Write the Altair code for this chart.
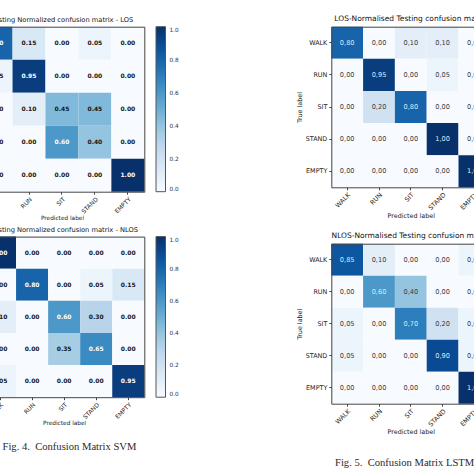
import altair as alt
import pandas as pd

W = H = 474

classes = ["WALK", "RUN", "SIT", "STAND", "EMPTY"]

svm_los = [
    [0.80, 0.15, 0.00, 0.05, 0.00],
    [0.05, 0.95, 0.00, 0.00, 0.00],
    [0.00, 0.10, 0.45, 0.45, 0.00],
    [0.00, 0.00, 0.60, 0.40, 0.00],
    [0.00, 0.00, 0.00, 0.00, 1.00],
]
svm_nlos = [
    [1.00, 0.00, 0.00, 0.00, 0.00],
    [0.00, 0.80, 0.00, 0.05, 0.15],
    [0.10, 0.00, 0.60, 0.30, 0.00],
    [0.00, 0.00, 0.35, 0.65, 0.00],
    [0.05, 0.00, 0.00, 0.00, 0.95],
]
lstm_los = [
    [0.80, 0.00, 0.10, 0.10, 0.00],
    [0.00, 0.95, 0.00, 0.05, 0.00],
    [0.00, 0.20, 0.80, 0.00, 0.00],
    [0.00, 0.00, 0.00, 1.00, 0.00],
    [0.00, 0.00, 0.00, 0.00, 1.00],
]
lstm_nlos = [
    [0.85, 0.10, 0.00, 0.00, 0.05],
    [0.00, 0.60, 0.40, 0.00, 0.00],
    [0.05, 0.00, 0.70, 0.20, 0.05],
    [0.05, 0.00, 0.00, 0.90, 0.05],
    [0.00, 0.00, 0.00, 0.00, 1.00],
]

titles = [
    "Testing Normalized confusion matrix - LOS",
    "Testing Normalized confusion matrix - NLOS",
    "LOS-Normalised Testing confusion matrix",
    "NLOS-Normalised Testing confusion matrix",
]
captions = ["Fig. 4.\u00a0 Confusion Matrix SVM", "Fig. 5.\u00a0 Confusion Matrix LSTM"]
colorbar_ticks = [0.0, 0.2, 0.4, 0.6, 0.8, 1.0]

blues = ["#f7fbff", "#deebf7", "#c6dbef", "#9ecae1", "#6baed6",
         "#4292c6", "#2171b5", "#08519c", "#08306b"]
blues_domain = [i / 8 for i in range(9)]

FONT = "DejaVu Sans"

LEFT_STYLE = dict(dec=".", weight="bold", cell_fs=6.0, lab_fs=6.0, axt_fs=5.8,
                  title_fs=6.7, dark="#151515", light="#ffffff",
                  xtitle_pad=0.0, ytitle_pad=3.0)
RIGHT_STYLE = dict(dec=",", weight="normal", cell_fs=6.6, lab_fs=6.4, axt_fs=6.4,
                   title_fs=7.5, dark="#3a3a3a", light="#dce9f6",
                   xtitle_pad=1.5, ytitle_pad=3.0)


def make_df(matrix, dec):
    rows = []
    for i, t in enumerate(classes):
        for j, p in enumerate(classes):
            v = matrix[i][j]
            rows.append({"true": t, "pred": p, "value": v,
                         "label": f"{v:.2f}".replace(".", dec)})
    return pd.DataFrame(rows)


def axis_common(st):
    return dict(labelFont=FONT, titleFont=FONT, labelColor="#222", titleColor="#222",
                domainColor="#444", tickColor="#444", domainWidth=1, tickWidth=1,
                tickSize=2.5, grid=False, zindex=1, titleFontWeight="normal",
                labelFontSize=st["lab_fs"], titleFontSize=st["axt_fs"])


def panel(matrix, xr, yr, title, st, legend_y=None):
    df = make_df(matrix, st["dec"])
    base = alt.Chart(df)
    xs = alt.Scale(domain=classes, range=xr, paddingInner=0, paddingOuter=0)
    ys = alt.Scale(domain=classes, range=yr, paddingInner=0, paddingOuter=0)
    cs = alt.Scale(domain=blues_domain, range=blues)
    ac = axis_common(st)

    if legend_y is not None:
        legend = alt.Legend(orient="none", legendX=156, legendY=legend_y,
                            direction="vertical", gradientLength=yr[1] - yr[0],
                            gradientThickness=9.5, title=None, values=colorbar_ticks,
                            format=".1f", labelFont=FONT, labelFontSize=5.8,
                            labelColor="#333", labelOffset=4, labelBaseline="middle",
                            gradientStrokeColor="#555", gradientStrokeWidth=1,
                            padding=0)
    else:
        legend = None

    rect = base.mark_rect().encode(
        x=alt.X("pred:N", scale=xs,
                axis=alt.Axis(orient="bottom", offset=yr[1] - H, labelAngle=-45,
                              title="Predicted label", labelPadding=1.5,
                              titlePadding=st["xtitle_pad"], **ac)),
        y=alt.Y("true:N", scale=ys,
                axis=alt.Axis(orient="left", offset=-xr[0], title="True label",
                              labelPadding=2, titlePadding=st["ytitle_pad"], **ac)),
        color=alt.Color("value:Q", scale=cs, legend=legend),
    )
    text = base.mark_text(font=FONT, fontSize=st["cell_fs"], fontWeight=st["weight"],
                          baseline="middle", align="center").encode(
        x=alt.X("pred:N", scale=xs,
                axis=alt.Axis(orient="top", offset=-yr[0], labels=False, ticks=False,
                              title=title, titlePadding=4,
                              **{**ac, "titleFontSize": st["title_fs"], "titleColor": "#111"})),
        y=alt.Y("true:N", scale=ys,
                axis=alt.Axis(orient="right", offset=xr[1] - W, labels=False,
                              ticks=False, title=None, **ac)),
        text="label:N",
        color=alt.condition(alt.datum.value > 0.5, alt.value(st["light"]), alt.value(st["dark"])),
    )
    return alt.layer(rect, text).resolve_axis(x="independent", y="independent")


tl = panel(svm_los, [-20.4, 144.3], [26.7, 191.7], titles[0], LEFT_STYLE, legend_y=26.7)
bl = panel(svm_nlos, [-16.0, 144.3], [236.6, 397.2], titles[1], LEFT_STYLE, legend_y=236.6)
tr = panel(lstm_los, [331.3, 490.3], [26.7, 187.3], titles[2], RIGHT_STYLE)
br = panel(lstm_nlos, [331.3, 490.3], [243.7, 403.7], titles[3], RIGHT_STYLE)

cap_df = pd.DataFrame({"caption": captions})
cap1 = alt.Chart(cap_df.iloc[[0]]).mark_text(
    font="Liberation Serif", fontSize=10.6, align="left", baseline="alphabetic",
    color="#2a2a2a").encode(x=alt.value(2.5), y=alt.value(449.5), text="caption:N")
cap2 = alt.Chart(cap_df.iloc[[1]]).mark_text(
    font="Liberation Serif", fontSize=10.6, align="left", baseline="alphabetic",
    color="#2a2a2a").encode(x=alt.value(335.0), y=alt.value(466.0), text="caption:N")

chart = alt.layer(tl, bl, tr, br, cap1, cap2).resolve_scale(
    x="independent", y="independent", color="independent"
).properties(
    width=W, height=H, padding=0,
    autosize=alt.AutoSizeParams(type="none"),
    background="white",
).configure_view(strokeWidth=0)

chart.save("out.html", embed_options={"renderer": "svg", "actions": False})
